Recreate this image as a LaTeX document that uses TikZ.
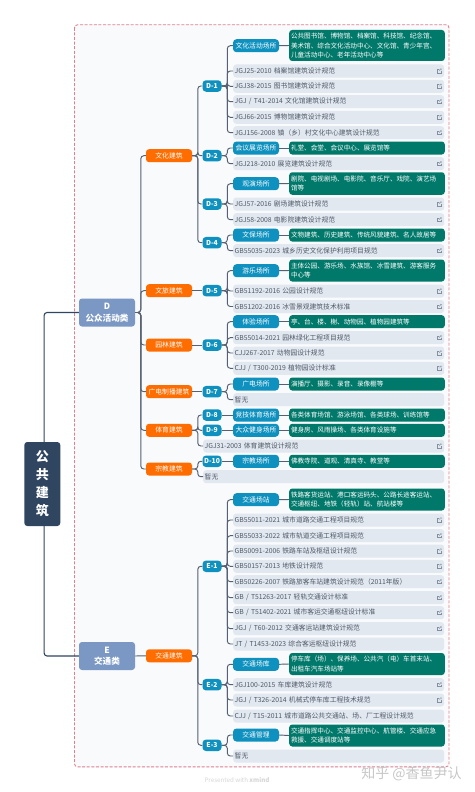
\documentclass[tikz,border=0pt]{standalone}
\usepackage{fontspec}
\setmainfont{Noto Sans CJK SC}
\usepackage{tikz}
\usetikzlibrary{calc}

\definecolor{rootnavy}{HTML}{2F4560}
\definecolor{classblue}{HTML}{7B98C4}
\definecolor{buildorange}{HTML}{FF6D00}
\definecolor{itemblue}{HTML}{0E91BF}
\definecolor{scopegreen}{HTML}{00796B}
\definecolor{specgray}{HTML}{E2E8F0}
\definecolor{specink}{HTML}{4E5866}
\definecolor{markgray}{HTML}{8490A0}
\definecolor{wirecolor}{HTML}{566070}
\definecolor{framepink}{HTML}{DF7F8E}
\definecolor{framefill}{HTML}{F8FAFC}

\tikzset{
  wire/.style={draw=wirecolor, line width=0.95pt, rounded corners=3pt},
  mainwire/.style={draw=rootnavy, line width=1.1pt, rounded corners=3pt},
  branch/.style={to path={-- ++(5.6,0) |- (\tikztotarget)}},
  rootbox/.style={fill=rootnavy, text=white, rounded corners=3pt, minimum width=36pt, minimum height=84pt, inner sep=0pt, align=center, font=\fontsize{13}{18}\selectfont\bfseries},
  classbox/.style={fill=classblue, text=white, rounded corners=3pt, minimum width=56pt, minimum height=28pt, inner sep=0pt, align=center, font=\fontsize{8.6}{11.5}\selectfont\bfseries},
  buildbox/.style={fill=buildorange, text=white, rounded corners=3pt, minimum width=46pt, minimum height=13pt, inner sep=0pt, font=\fontsize{6.8}{8}\selectfont},
  codebox/.style={fill=itemblue, text=white, rounded corners=3.5pt, minimum width=19pt, minimum height=11.5pt, inner sep=0pt, font=\fontsize{6.8}{8}\selectfont\bfseries},
  itembox/.style={fill=itemblue, text=white, rounded corners=3.5pt, minimum width=46pt, minimum height=13pt, inner sep=0pt, font=\fontsize{6.8}{8}\selectfont},
  scopebox/.style={fill=scopegreen, text=white, rounded corners=3pt, anchor=west, text width=152pt, minimum height=13pt, inner xsep=1.8pt, inner ysep=0pt, align=left, font=\fontsize{6.6}{9.3}\selectfont},
  specbar/.style={fill=specgray, text=specink, rounded corners=3pt, anchor=west, text width=208pt, minimum height=13pt, inner xsep=1.5pt, inner ysep=0pt, align=left, font=\fontsize{6.8}{8}\selectfont},
  longbar/.style={specbar, text width=238pt},
  linkmark/.style={draw=markgray, line width=0.3pt, line cap=round},
}

% small open-in-new mark at the right end of a bar
\newcommand{\linkmark}[1]{%
  \begin{scope}[shift={($(#1.east)+(-5,0)$)}]
    \draw[linkmark] (-0.2,-1.7) -- (-1.9,-1.7) -- (-1.9,1.9) -- (1.7,1.9) -- (1.7,0.2);
    \draw[linkmark] (-0.2,0) -- (2,-2.2) (0.8,-2.2) -- (2,-2.2) -- (2,-1);
  \end{scope}}

\begin{document}
\begin{tikzpicture}[x=1pt,y=-1pt]
  \useasboundingbox (0,0) rectangle (474,792);
  \fill[white] (0,0) rectangle (474,792);
  \draw[draw=framepink, fill=framefill, line width=0.9pt, dash pattern=on 3pt off 1.6pt, rounded corners=3pt] (74.5,24.8) rectangle (449,766.8);

  % root and the two classes
  \node[rootbox] (root) at (42.3,484) {公\\共\\建\\筑};
  \node[classbox] (clsd) at (107,312.5) {D\\公众活动类};
  \node[classbox] (clse) at (107,656) {E\\交通类};

  % buildings
  \node[buildbox] (cult) at (169,155.7) {文化建筑};
  \node[buildbox] (tour) at (169,290.7) {文旅建筑};
  \node[buildbox] (park) at (169,345) {园林建筑};
  \node[buildbox] (broad) at (169,391.7) {广电制播建筑};
  \node[buildbox] (sport) at (169,430.3) {体育建筑};
  \node[buildbox] (relig) at (169,469) {宗教建筑};
  \node[buildbox] (traf) at (169,655.8) {交通建筑};

  % codes
  \node[codebox] (d1) at (212,86) {D-1};
  \node[codebox] (d2) at (212,155.7) {D-2};
  \node[codebox] (d3) at (212,204) {D-3};
  \node[codebox] (d4) at (212,242.7) {D-4};
  \node[codebox] (d5) at (212,290.7) {D-5};
  \node[codebox] (d6) at (212,345) {D-6};
  \node[codebox] (d7) at (212,391.7) {D-7};
  \node[codebox] (d8) at (212,415) {D-8};
  \node[codebox] (d9) at (212,430.3) {D-9};
  \node[codebox] (d10) at (212,461.3) {D-10};
  \node[codebox] (e1) at (212,566.3) {E-1};
  \node[codebox] (e2) at (212,684.7) {E-2};
  \node[codebox] (e3) at (212,745.3) {E-3};

  % D-1
  \node[itembox] (d1i) at (256,45.7) {文化活动场所};
  \node[scopebox, minimum height=31pt] (d1s) at (289,45.5) {公共图书馆、博物馆、档案馆、科技馆、纪念馆、\\美术馆、综合文化活动中心、文化馆、青少年宫、\\儿童活动中心、老年活动中心等};
  \node[specbar] (d1a) at (233,71) {JGJ25-2010 档案馆建筑设计规范};
  \node[specbar] (d1b) at (233,86.3) {JGJ38-2015 图书馆建筑设计规范};
  \node[specbar] (d1c) at (233,101.7) {JGJ / T41-2014 文化馆建筑设计规范};
  \node[specbar] (d1d) at (233,117.3) {JGJ66-2015 博物馆建筑设计规范};
  \node[specbar] (d1e) at (233,132.7) {JGJ156-2008 镇（乡）村文化中心建筑设计规范};

  % D-2
  \node[itembox] (d2i) at (256,148) {会议展览场所};
  \node[scopebox] (d2s) at (289,148) {礼堂、会堂、会议中心、展览馆等};
  \node[specbar] (d2a) at (233,163.7) {JGJ218-2010 展览建筑设计规范};

  % D-3
  \node[itembox] (d3i) at (256,183.7) {观演场所};
  \node[scopebox, minimum height=22.5pt] (d3s) at (289,183.5) {剧院、电视剧场、电影院、音乐厅、戏院、演艺场\\馆等};
  \node[specbar] (d3a) at (233,204) {JGJ57-2016 剧场建筑设计规范};
  \node[specbar] (d3b) at (233,219.7) {JGJ58-2008 电影院建筑设计规范};

  % D-4
  \node[itembox] (d4i) at (256,235) {文保场所};
  \node[scopebox] (d4s) at (289,235) {文物建筑、历史建筑、传统风貌建筑、名人故居等};
  \node[specbar] (d4a) at (233,250.7) {GB55035-2023 城乡历史文化保护利用项目规范};

  % D-5
  \node[itembox] (d5i) at (256,270.7) {游乐场所};
  \node[scopebox, minimum height=22pt] (d5s) at (289,270.5) {主体公园、游乐场、水族馆、冰雪建筑、游客服务\\中心等};
  \node[specbar] (d5a) at (233,291) {GB51192-2016 公园设计规范};
  \node[specbar] (d5b) at (233,306.5) {GB51202-2016 冰雪景观建筑技术标准};

  % D-6
  \node[itembox] (d6i) at (256,321.7) {体验场所};
  \node[scopebox] (d6s) at (289,321.7) {亭、台、楼、榭、动物园、植物园建筑等};
  \node[specbar] (d6a) at (233,337.7) {GB55014-2021 园林绿化工程项目规范};
  \node[specbar] (d6b) at (233,353) {CJJ267-2017 动物园设计规范};
  \node[specbar] (d6c) at (233,368.3) {CJJ / T300-2019 植物园设计标准};

  % D-7
  \node[itembox] (d7i) at (256,384) {广电场所};
  \node[scopebox] (d7s) at (289,384) {演播厅、摄影、录音、录像棚等};
  \node[specbar] (d7a) at (233,399.7) {暂无};

  % D-8, D-9
  \node[itembox] (d8i) at (256,415) {竞技体育场所};
  \node[scopebox] (d8s) at (289,415) {各类体育场馆、游泳场馆、各类球场、训练馆等};
  \node[itembox] (d9i) at (256,430.3) {大众健身场所};
  \node[scopebox] (d9s) at (289,430.3) {健身房、风雨操场、各类体育设施等};
  \node[longbar] (sporta) at (203,446) {JGJ31-2003 体育建筑设计规范};

  % D-10
  \node[itembox] (d10i) at (256,461.3) {宗教场所};
  \node[scopebox] (d10s) at (289,461.3) {佛教寺院、道观、清真寺、教堂等};
  \node[longbar] (relia) at (203,476.7) {暂无};

  % E-1
  \node[itembox] (e1i) at (256,499.7) {交通场站};
  \node[scopebox, minimum height=22pt] (e1s) at (289,499.5) {铁路客货运站、港口客运码头、公路长途客运站、\\交通枢纽、地铁（轻轨）站、航站楼等};
  \node[specbar] (e1a) at (233,520) {GB55011-2021 城市道路交通工程项目规范};
  \node[specbar] (e1b) at (233,535.7) {GB55033-2022 城市轨道交通工程项目规范};
  \node[specbar] (e1c) at (233,551) {GB50091-2006 铁路车站及枢纽设计规范};
  \node[specbar] (e1d) at (233,566.3) {GB50157-2013 地铁设计规范};
  \node[specbar] (e1e) at (233,581.7) {GB50226-2007 铁路旅客车站建筑设计规范（2011年版）};
  \node[specbar] (e1f) at (233,597.7) {GB / T51263-2017 轻轨交通设计标准};
  \node[specbar] (e1g) at (233,612.7) {GB / T51402-2021 城市客运交通枢纽设计标准};
  \node[specbar] (e1h) at (233,628.7) {JGJ / T60-2012 交通客运站建筑设计规范};
  \node[specbar] (e1j) at (233,644) {JT / T1453-2023 综合客运枢纽设计规范};

  % E-2
  \node[itembox] (e2i) at (256,664.3) {交通场库};
  \node[scopebox, minimum height=22pt] (e2s) at (289,664) {停车库（场）、保养场、公共汽（电）车首末站、\\出租车汽车场站等};
  \node[specbar] (e2a) at (233,684.7) {JGJ100-2015 车库建筑设计规范};
  \node[specbar] (e2b) at (233,700) {JGJ / T326-2014 机械式停车库工程技术规范};
  \node[specbar] (e2c) at (233,716) {CJJ / T15-2011 城市道路公共交通站、场、厂工程设计规范};

  % E-3
  \node[itembox] (e3i) at (256,735) {交通管理};
  \node[scopebox, minimum height=22pt] (e3s) at (289,735.5) {交通指挥中心、交通监控中心、航管楼、交通应急\\救援、交通调度站等};
  \node[specbar] (e3a) at (233,756) {暂无};

  % link marks
  \linkmark{d1a} \linkmark{d1b} \linkmark{d1c} \linkmark{d1d} \linkmark{d1e}
  \linkmark{d2a} \linkmark{d3a} \linkmark{d3b} \linkmark{d4a}
  \linkmark{d5a} \linkmark{d5b} \linkmark{d6a} \linkmark{d6b} \linkmark{d6c}
  \linkmark{sporta}
  \linkmark{e1a} \linkmark{e1b} \linkmark{e1c} \linkmark{e1d} \linkmark{e1e}
  \linkmark{e1f} \linkmark{e1g} \linkmark{e1h}
  \linkmark{e2a} \linkmark{e2b}

  % connectors
  \draw[mainwire] ([xshift=1.8pt]root.north) |- (clsd.west);
  \draw[mainwire] ([xshift=1.8pt]root.south) |- (clse.west);
  \draw[wire] (clsd.east) edge[branch] (cult.west) edge[branch] (tour.west) edge[branch] (park.west) edge[branch] (broad.west) edge[branch] (sport.west) edge[branch] (relig.west);
  \draw[wire] (clse.east) -- (traf.west);
  \draw[wire] (cult.east) edge[branch] (d1.west) edge[branch] (d2.west) edge[branch] (d3.west) edge[branch] (d4.west);
  \draw[wire] (tour.east) -- (d5.west);
  \draw[wire] (park.east) -- (d6.west);
  \draw[wire] (broad.east) -- (d7.west);
  \draw[wire] (sport.east) edge[branch] (d8.west) edge[branch] (d9.west) edge[branch] (sporta.west);
  \draw[wire] (relig.east) edge[branch] (d10.west) edge[branch] (relia.west);
  \draw[wire] (traf.east) edge[branch] (e1.west) edge[branch] (e2.west) edge[branch] (e3.west);
  \draw[wire] (d1.east) edge[branch] (d1i.west) edge[branch] (d1a.west) edge[branch] (d1b.west) edge[branch] (d1c.west) edge[branch] (d1d.west) edge[branch] (d1e.west);
  \draw[wire] (d2.east) edge[branch] (d2i.west) edge[branch] (d2a.west);
  \draw[wire] (d3.east) edge[branch] (d3i.west) edge[branch] (d3a.west) edge[branch] (d3b.west);
  \draw[wire] (d4.east) edge[branch] (d4i.west) edge[branch] (d4a.west);
  \draw[wire] (d5.east) edge[branch] (d5i.west) edge[branch] (d5a.west) edge[branch] (d5b.west);
  \draw[wire] (d6.east) edge[branch] (d6i.west) edge[branch] (d6a.west) edge[branch] (d6b.west) edge[branch] (d6c.west);
  \draw[wire] (d7.east) edge[branch] (d7i.west) edge[branch] (d7a.west);
  \draw[wire] (d8.east) -- (d8i.west);
  \draw[wire] (d9.east) -- (d9i.west);
  \draw[wire] (d10.east) -- (d10i.west);
  \draw[wire] (e1.east) edge[branch] (e1i.west) edge[branch] (e1a.west) edge[branch] (e1b.west) edge[branch] (e1c.west) edge[branch] (e1d.west) edge[branch] (e1e.west) edge[branch] (e1f.west) edge[branch] (e1g.west) edge[branch] (e1h.west) edge[branch] (e1j.west);
  \draw[wire] (e2.east) edge[branch] (e2i.west) edge[branch] (e2a.west) edge[branch] (e2b.west) edge[branch] (e2c.west);
  \draw[wire] (e3.east) edge[branch] (e3i.west) edge[branch] (e3a.west);
  \draw[wire] (d1i.east) -- (d1s.west);
  \draw[wire] (d2i.east) -- (d2s.west);
  \draw[wire] (d3i.east) -- (d3s.west);
  \draw[wire] (d4i.east) -- (d4s.west);
  \draw[wire] (d5i.east) -- (d5s.west);
  \draw[wire] (d6i.east) -- (d6s.west);
  \draw[wire] (d7i.east) -- (d7s.west);
  \draw[wire] (d8i.east) -- (d8s.west);
  \draw[wire] (d9i.east) -- (d9s.west);
  \draw[wire] (d10i.east) -- (d10s.west);
  \draw[wire] (e1i.east) -- (e1s.west);
  \draw[wire] (e2i.east) -- (e2s.west);
  \draw[wire] (e3i.east) -- (e3s.west);

  % footer
  \node[text=black!16, font=\fontsize{6.2}{8}\selectfont] (footer) at (237,779.5) {Presented with \textbf{xmind}};
  \node[text=black!22, font=\fontsize{14}{16}\selectfont] (mark) at (411.5,773.5) {知乎 @香鱼尹认};
\end{tikzpicture}
\end{document}
